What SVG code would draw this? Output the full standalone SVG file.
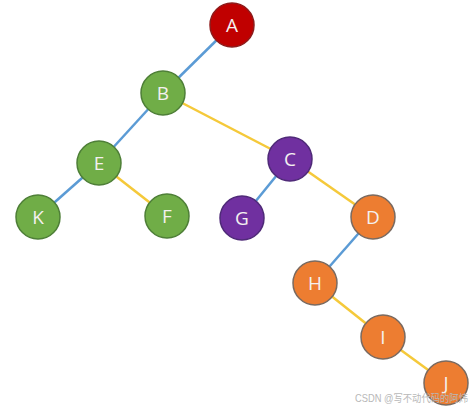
<svg xmlns="http://www.w3.org/2000/svg" width="474" height="411" viewBox="0 0 474 411">
<style>
.e{stroke-width:2.5;fill:none}
.b{stroke:#5B9BD5}
.y{stroke:#F5C93A}
circle{stroke-width:1.5}
.red{fill:#C00000;stroke:#8E1B1B}
.grn{fill:#70AD47;stroke:#4E7F37}
.pur{fill:#7030A0;stroke:#4F2A78}
.org{fill:#ED7D31;stroke:#7A6A60}
text.l{font-family:"Open Sans","Liberation Sans",sans-serif;font-size:19px;fill:#F4F0F0;text-anchor:middle;dominant-baseline:central}
text.w{font-family:"Liberation Sans","Noto Sans CJK SC",sans-serif;font-size:10.5px;fill:#B8B8B8}
</style>
<rect width="474" height="411" fill="#FFFFFF"/>
<g id="connectors">
<line class="e b" x1="232" y1="25" x2="163" y2="93"/>
<line class="e b" x1="163" y1="93" x2="99" y2="163"/>
<line class="e y" x1="163" y1="93" x2="290" y2="159"/>
<line class="e b" x1="99" y1="163" x2="38" y2="217"/>
<line class="e y" x1="99" y1="163" x2="167" y2="216"/>
<line class="e b" x1="290" y1="159" x2="242" y2="218"/>
<line class="e y" x1="290" y1="159" x2="373" y2="217"/>
<line class="e b" x1="373" y1="217" x2="315" y2="283"/>
<line class="e y" x1="315" y1="283" x2="383" y2="337"/>
<line class="e y" x1="383" y1="337" x2="446" y2="383"/>
</g>
<g id="A"><circle class="red" cx="232" cy="25" r="22"/><text class="l" x="232" y="25">A</text></g>
<g id="B"><circle class="grn" cx="163" cy="93" r="22"/><text class="l" x="163" y="93">B</text></g>
<g id="E"><circle class="grn" cx="99" cy="163" r="22"/><text class="l" x="99" y="163">E</text></g>
<g id="K"><circle class="grn" cx="38" cy="217" r="22"/><text class="l" x="38" y="217">K</text></g>
<g id="F"><circle class="grn" cx="167" cy="216" r="22"/><text class="l" x="167" y="216">F</text></g>
<g id="C"><circle class="pur" cx="290" cy="159" r="22"/><text class="l" x="290" y="159">C</text></g>
<g id="G"><circle class="pur" cx="242" cy="218" r="22"/><text class="l" x="242" y="218">G</text></g>
<g id="D"><circle class="org" cx="373" cy="217" r="22"/><text class="l" x="373" y="217">D</text></g>
<g id="H"><circle class="org" cx="315" cy="283" r="22"/><text class="l" x="315" y="283">H</text></g>
<g id="I"><circle class="org" cx="383" cy="337" r="22"/><text class="l" x="383" y="337">I</text></g>
<g id="J"><circle class="org" cx="446" cy="383" r="22"/><text class="l" x="446" y="383">J</text></g>
<text class="w" x="355" y="402" textLength="113" lengthAdjust="spacingAndGlyphs">CSDN @写不动代码的阿炜</text>
</svg>
